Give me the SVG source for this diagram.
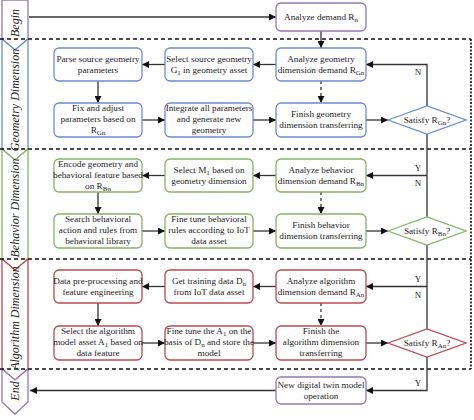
<svg xmlns="http://www.w3.org/2000/svg" width="474" height="420" viewBox="0 0 474 420">
<defs>
<marker id="arr" markerUnits="userSpaceOnUse" markerWidth="7" markerHeight="7" refX="7" refY="3.5" orient="auto"><path d="M0,0 L7,3.5 L0,7 z" fill="#111"/></marker>
<style>
.t{font-family:"Liberation Serif","Times New Roman",serif;font-size:9.2px;fill:#222;text-anchor:middle}
.s{font-size:7px}
.lane{font-family:"Liberation Serif","Times New Roman",serif;font-size:12px;font-style:italic;fill:#222;text-anchor:middle}
.lab{font-family:"Liberation Serif","Times New Roman",serif;font-size:9px;fill:#222;text-anchor:middle}
.box{fill:#fff;stroke-width:1.3}
.pu{stroke:#9478b0}
.bl{stroke:#6b8ccc}
.gr{stroke:#84b464}
.rd{stroke:#b84a52}
.c{fill:none;stroke:#333;stroke-width:1.3}
.ca{fill:none;stroke:#333;stroke-width:1.3;marker-end:url(#arr)}
.cd{fill:none;stroke:#333;stroke-width:1.3;stroke-dasharray:3,3;marker-end:url(#arr)}
.sep{fill:none;stroke:#111;stroke-width:1.4;stroke-dasharray:4,3}
.sepv{fill:none;stroke:#222;stroke-width:1.8;stroke-dasharray:2,1.5}
</style>
</defs>

<g id="lanes">
<g id="lane-begin"><polygon class="box pu" points="2,0 28,0 28,39 15,50 2,39"/><text class="lane" transform="translate(19,23) rotate(-90)">Begin</text></g>
<g id="lane-geometry"><polygon class="box bl" points="2,39 15,50 28,39 28,149 15,160 2,149"/><text class="lane" transform="translate(19,100) rotate(-90)">Geometry Dimension</text></g>
<g id="lane-behavior"><polygon class="box gr" points="2,149 15,160 28,149 28,259 15,270 2,259"/><text class="lane" transform="translate(19,208) rotate(-90)">Behavior Dimension</text></g>
<g id="lane-algorithm"><polygon class="box rd" points="2,259 15,270 28,259 28,369 15,380 2,369"/><text class="lane" transform="translate(19,318) rotate(-90)">Algorithm Dimension</text></g>
<g id="lane-end"><polygon class="box pu" points="2,369 15,380 28,369 28,402 15,414 2,402"/><text class="lane" transform="translate(19,391) rotate(-90)">End</text></g>
</g>

<g id="separators">
<path class="sep" d="M0,39 H471 M0,149 H471 M0,259 H471 M0,369 H471"/>
<path class="sepv" d="M471,39 V369"/>
</g>

<g id="connectors">
<path class="ca" d="M29,17 H276"/>
<path class="ca" d="M321,31 V48"/>
<path class="ca" d="M276,64.5 H253"/>
<path class="ca" d="M165,64.5 H142"/>
<path class="ca" d="M98,81 V103"/>
<path class="ca" d="M142,120 H165"/>
<path class="ca" d="M253,120 H276"/>
<path class="cd" d="M321,81 V103"/>
<path class="ca" d="M366,120 H388"/>
<path class="ca" d="M427,106 V64.5 H366"/>
<path class="c" d="M427,134 V217"/>
<path class="ca" d="M427,175.5 H366"/>
<path class="ca" d="M276,175.5 H253"/>
<path class="ca" d="M165,175.5 H142"/>
<path class="ca" d="M98,192 V214"/>
<path class="ca" d="M142,231 H165"/>
<path class="ca" d="M253,231 H276"/>
<path class="cd" d="M321,192 V214"/>
<path class="ca" d="M366,231 H388"/>
<path class="c" d="M427,245 V329"/>
<path class="ca" d="M427,286.5 H366"/>
<path class="ca" d="M276,286.5 H253"/>
<path class="ca" d="M165,286.5 H142"/>
<path class="ca" d="M98,303 V326"/>
<path class="ca" d="M142,343 H165"/>
<path class="ca" d="M253,343 H276"/>
<path class="cd" d="M321,303 V326"/>
<path class="ca" d="M366,343 H388"/>
<path class="ca" d="M427,357 V390.5 H366"/>
<path class="ca" d="M276,390.5 H30"/>
<text class="lab" x="418" y="75">N</text>
<text class="lab" x="418" y="171">Y</text>
<text class="lab" x="418" y="186">N</text>
<text class="lab" x="418" y="282">Y</text>
<text class="lab" x="418" y="298">N</text>
<text class="lab" x="418" y="386">Y</text>
</g>

<g id="n-demand"><rect class="box pu" x="276" y="3" width="90" height="28" rx="5"/><text class="t" x="321" y="20">Analyze demand R<tspan class="s" dy="2">n</tspan></text></g>

<g id="g-analyze"><rect class="box bl" x="276" y="48" width="90" height="33" rx="5"/><text class="t" x="321" y="62">Analyze geometry</text><text class="t" x="321" y="73">dimension demand R<tspan class="s" dy="2">Gn</tspan></text></g>
<g id="g-select"><rect class="box bl" x="165" y="48" width="88" height="33" rx="5"/><text class="t" x="209" y="62">Select source geometry</text><text class="t" x="209" y="73">G<tspan class="s" dy="2">1</tspan><tspan dy="-2"> in geometry asset</tspan></text></g>
<g id="g-parse"><rect class="box bl" x="54" y="48" width="88" height="33" rx="5"/><text class="t" x="98" y="62">Parse source geometry</text><text class="t" x="98" y="73">parameters</text></g>
<g id="g-fix"><rect class="box bl" x="54" y="103" width="88" height="34" rx="5"/><text class="t" x="98" y="111">Fix and adjust</text><text class="t" x="98" y="122">parameters based on</text><text class="t" x="98" y="133">R<tspan class="s" dy="2">Gn</tspan></text></g>
<g id="g-integrate"><rect class="box bl" x="165" y="103" width="88" height="34" rx="5"/><text class="t" x="209" y="111">Integrate all parameters</text><text class="t" x="209" y="122">and generate new</text><text class="t" x="209" y="133">geometry</text></g>
<g id="g-finish"><rect class="box bl" x="276" y="103" width="90" height="34" rx="5"/><text class="t" x="321" y="117">Finish geometry</text><text class="t" x="321" y="128">dimension transferring</text></g>
<g id="g-satisfy"><polygon class="box bl" points="388,120 427,106 466,120 427,134"/><text class="t" x="427" y="123">Satisfy R<tspan class="s" dy="2">Gn</tspan><tspan dy="-2">?</tspan></text></g>

<g id="b-analyze"><rect class="box gr" x="276" y="159" width="90" height="33" rx="5"/><text class="t" x="321" y="173">Analyze behavior</text><text class="t" x="321" y="184">dimension demand R<tspan class="s" dy="2">Bn</tspan></text></g>
<g id="b-select"><rect class="box gr" x="165" y="159" width="88" height="33" rx="5"/><text class="t" x="209" y="173">Select M<tspan class="s" dy="2">1</tspan><tspan dy="-2"> based on</tspan></text><text class="t" x="209" y="184">geometry dimension</text></g>
<g id="b-encode"><rect class="box gr" x="54" y="159" width="88" height="33" rx="5"/><text class="t" x="98" y="167">Encode geometry and</text><text class="t" x="98" y="178">behavioral feature based</text><text class="t" x="98" y="189">on R<tspan class="s" dy="2">Bn</tspan></text></g>
<g id="b-search"><rect class="box gr" x="54" y="214" width="88" height="34" rx="5"/><text class="t" x="98" y="222">Search behavioral</text><text class="t" x="98" y="233">action and rules from</text><text class="t" x="98" y="244">behavioral library</text></g>
<g id="b-fine"><rect class="box gr" x="165" y="214" width="88" height="34" rx="5"/><text class="t" x="209" y="222">Fine tune behavioral</text><text class="t" x="209" y="233">rules according to IoT</text><text class="t" x="209" y="244">data asset</text></g>
<g id="b-finish"><rect class="box gr" x="276" y="214" width="90" height="34" rx="5"/><text class="t" x="321" y="228">Finish behavior</text><text class="t" x="321" y="239">dimension transferring</text></g>
<g id="b-satisfy"><polygon class="box gr" points="388,231 427,217 466,231 427,245"/><text class="t" x="427" y="234">Satisfy R<tspan class="s" dy="2">Bn</tspan><tspan dy="-2">?</tspan></text></g>

<g id="a-analyze"><rect class="box rd" x="276" y="270" width="90" height="33" rx="5"/><text class="t" x="321" y="284">Analyze algorithm</text><text class="t" x="321" y="295">dimension demand R<tspan class="s" dy="2">An</tspan></text></g>
<g id="a-get"><rect class="box rd" x="165" y="270" width="88" height="33" rx="5"/><text class="t" x="209" y="284">Get training data D<tspan class="s" dy="2">n</tspan></text><text class="t" x="209" y="295">from IoT data asset</text></g>
<g id="a-data"><rect class="box rd" x="54" y="270" width="88" height="33" rx="5"/><text class="t" x="98" y="284">Data pre-processing and</text><text class="t" x="98" y="295">feature engineering</text></g>
<g id="a-select"><rect class="box rd" x="54" y="326" width="88" height="34" rx="5"/><text class="t" x="98" y="334">Select the algorithm</text><text class="t" x="98" y="345">model asset A<tspan class="s" dy="2">1</tspan><tspan dy="-2"> based on</tspan></text><text class="t" x="98" y="356">data feature</text></g>
<g id="a-fine"><rect class="box rd" x="165" y="326" width="88" height="34" rx="5"/><text class="t" x="209" y="334">Fine tune the A<tspan class="s" dy="2">1</tspan><tspan dy="-2"> on the</tspan></text><text class="t" x="209" y="345">basis of D<tspan class="s" dy="2">n</tspan><tspan dy="-2"> and store the</tspan></text><text class="t" x="209" y="356">model</text></g>
<g id="a-finish"><rect class="box rd" x="276" y="326" width="90" height="34" rx="5"/><text class="t" x="321" y="334">Finish the</text><text class="t" x="321" y="345">algorithm dimension</text><text class="t" x="321" y="356">transferring</text></g>
<g id="a-satisfy"><polygon class="box rd" points="388,343 427,329 466,343 427,357"/><text class="t" x="427" y="346">Satisfy R<tspan class="s" dy="2">An</tspan><tspan dy="-2">?</tspan></text></g>

<g id="n-new"><rect class="box pu" x="276" y="377" width="90" height="27" rx="5"/><text class="t" x="321" y="388">New digital twin model</text><text class="t" x="321" y="399">operation</text></g>
</svg>
